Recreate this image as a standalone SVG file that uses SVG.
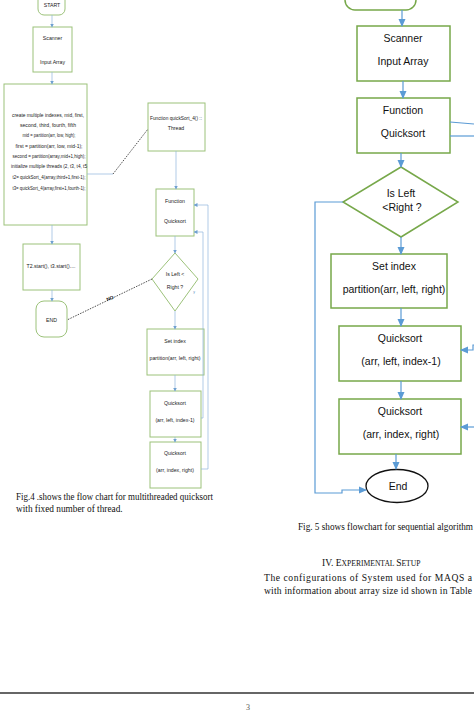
<svg xmlns="http://www.w3.org/2000/svg" width="474" height="712" viewBox="0 0 474 712">
<defs>
<style>
.lb{fill:#fff;stroke:#9cc27a;stroke-width:1}
.rb{fill:#fff;stroke:#77a84a;stroke-width:1.5}
.lt{font-family:"Liberation Sans",Arial,sans-serif;font-size:5.2px;fill:#222;text-anchor:middle}
.rt{font-family:"Liberation Sans",Arial,sans-serif;font-size:10.5px;fill:#111;text-anchor:middle}
.lc{fill:none;stroke:#8fb6dd;stroke-width:0.7}
.rc{fill:none;stroke:#5b9bd5;stroke-width:1.2}
.dash{fill:none;stroke:#222;stroke-width:0.8;stroke-dasharray:1.5,1.2}
.cap{font-family:"Liberation Serif","Times New Roman",serif;font-size:9.3px;fill:#111}
</style>
<marker id="la" markerWidth="4" markerHeight="4" refX="3.5" refY="2" orient="auto" markerUnits="userSpaceOnUse"><path d="M0,0 L4,2 L0,4 z" fill="#6fa0d0"/></marker>
<marker id="ra" markerWidth="8" markerHeight="8" refX="7" refY="4" orient="auto" markerUnits="userSpaceOnUse"><path d="M0,0.5 L8,4 L0,7.5 z" fill="#5b9bd5"/></marker>
</defs>

<!-- Left flowchart nodes -->
<g id="l-start"><rect class="lb" x="38" y="-6" width="27" height="21" rx="6"/><text class="lt" x="52" y="7">START</text></g>
<g id="l-scanner"><rect class="lb" x="33" y="27" width="39" height="45"/><text class="lt" x="52.5" y="40">Scanner</text><text class="lt" x="52.5" y="64">Input Array</text></g>
<g id="l-create"><rect class="lb" x="4" y="84" width="83" height="141"/>
<text class="lt" x="48" y="117" textLength="72" lengthAdjust="spacingAndGlyphs">create multiple indexes, mid, first,</text>
<text class="lt" x="48" y="127" textLength="56" lengthAdjust="spacingAndGlyphs">second, third, fourth, fifth</text>
<text class="lt" x="49" y="137" textLength="53" lengthAdjust="spacingAndGlyphs">mid = partition(arr, low, high);</text>
<text class="lt" x="49" y="148" textLength="67" lengthAdjust="spacingAndGlyphs">first = partition(arr, low, mid-1);</text>
<text class="lt" x="49" y="158" textLength="73" lengthAdjust="spacingAndGlyphs">second = partition(array,mid+1,high);</text>
<text class="lt" x="49" y="168" textLength="76" lengthAdjust="spacingAndGlyphs">initialize multiple threads (2, t3, t4, t5</text>
<text class="lt" x="49" y="179" textLength="73" lengthAdjust="spacingAndGlyphs">t2= quickSort_4(array,third+1,first-1);</text>
<text class="lt" x="49" y="190" textLength="73" lengthAdjust="spacingAndGlyphs">t3= quickSort_4(array,first+1,fourth-1);</text>
</g>
<g id="l-tstart"><rect class="lb" x="23" y="244" width="57" height="46"/><text class="lt" x="51" y="268">T2.start(), t3.start()....</text></g>
<g id="l-end"><rect class="lb" x="36" y="301" width="31" height="36" rx="8"/><text class="lt" x="51.5" y="322">END</text></g>
<g id="l-thread"><rect class="lb" x="148" y="103" width="57" height="48"/><text class="lt" x="176" y="120" textLength="52" lengthAdjust="spacingAndGlyphs">Function quickSort_4() ::</text><text class="lt" x="176" y="130">Thread</text></g>
<g id="l-func"><rect class="lb" x="156" y="189" width="38" height="47"/><text class="lt" x="175" y="203">Function</text><text class="lt" x="175" y="223">Quicksort</text></g>
<g id="l-cond"><polygon class="lb" points="175,253 198,279 175,311 152,279"/><text class="lt" x="175" y="276">Is Left &lt;</text><text class="lt" x="175" y="289">Right ?</text><text class="lt" x="194" y="293" style="font-size:3.5px;fill:#5b8fc0">y</text></g>
<g id="l-setidx"><rect class="lb" x="147" y="329" width="57" height="46"/><text class="lt" x="175" y="343">Set index</text><text class="lt" x="175" y="360" textLength="51" lengthAdjust="spacingAndGlyphs">partition(arr, left, right)</text></g>
<g id="l-qs1"><rect class="lb" x="150" y="391" width="51" height="46"/><text class="lt" x="175" y="405">Quicksort</text><text class="lt" x="175" y="422">(arr, left, index-1)</text></g>
<g id="l-qs2"><rect class="lb" x="150" y="442" width="51" height="46"/><text class="lt" x="175" y="455">Quicksort</text><text class="lt" x="175" y="472">(arr, index, right)</text></g>

<!-- Right flowchart nodes -->
<g id="r-start"><rect class="rb" x="345" y="-22" width="71" height="32" rx="10"/></g>
<g id="r-scanner"><rect class="rb" x="357" y="26" width="93" height="55"/><text class="rt" x="403" y="42">Scanner</text><text class="rt" x="403" y="65">Input Array</text></g>
<g id="r-func"><rect class="rb" x="357" y="98" width="93" height="55"/><text class="rt" x="403" y="114">Function</text><text class="rt" x="403" y="137">Quicksort</text></g>
<g id="r-cond"><polygon class="rb" points="401,167 458,202 401,237 343,202"/><text class="rt" x="401" y="197">Is Left</text><text class="rt" x="402" y="211">&lt;Right ?</text></g>
<g id="r-setidx"><rect class="rb" x="331" y="254" width="116" height="54"/><text class="rt" x="394" y="270">Set index</text><text class="rt" x="394" y="293">partition(arr, left, right)</text></g>
<g id="r-qs1"><rect class="rb" x="339" y="326" width="122" height="55"/><text class="rt" x="400" y="342">Quicksort</text><text class="rt" x="401" y="365">(arr, left, index-1)</text></g>
<g id="r-qs2"><rect class="rb" x="339" y="399" width="122" height="55"/><text class="rt" x="400" y="415">Quicksort</text><text class="rt" x="401" y="438">(arr, index, right)</text></g>
<g id="r-end"><ellipse cx="397" cy="486" rx="31" ry="16.5" fill="#fff" stroke="#111" stroke-width="1.3"/><text class="rt" x="398" y="490">End</text></g>

<!-- Connectors -->
<g id="connectors">
<line class="lc" x1="52" y1="15" x2="52" y2="27" marker-end="url(#la)"/>
<line class="lc" x1="52" y1="72" x2="52" y2="84" marker-end="url(#la)"/>
<line class="lc" x1="52" y1="225" x2="52" y2="244" marker-end="url(#la)"/>
<line class="lc" x1="52" y1="290" x2="52" y2="301" marker-end="url(#la)"/>
<polyline class="lc" points="87,174 113,174"/>
<line class="dash" x1="113" y1="174" x2="148" y2="129"/>
<line class="lc" x1="176" y1="151" x2="176" y2="189" marker-end="url(#la)"/>
<line class="lc" x1="175" y1="236" x2="175" y2="253" marker-end="url(#la)"/>
<line class="lc" x1="175" y1="311" x2="175" y2="329" marker-end="url(#la)"/>
<line class="lc" x1="175" y1="375" x2="175" y2="391" marker-end="url(#la)"/>
<line class="lc" x1="175" y1="437" x2="175" y2="442" marker-end="url(#la)"/>
<polyline class="lc" points="201,418 203,418 203,232 194,232" marker-end="url(#la)"/>
<polyline class="lc" points="201,469 208,469 208,205 194,205" marker-end="url(#la)"/>
<line class="dash" x1="152" y1="279" x2="67" y2="320"/>
<text x="110" y="300" transform="rotate(-22 110 298)" style="font-family:'Liberation Sans',Arial,sans-serif;font-size:5px;font-weight:bold;fill:#222;text-anchor:middle">NO</text>

<line class="rc" x1="402" y1="10" x2="402" y2="26" marker-end="url(#ra)"/>
<line class="rc" x1="403" y1="81" x2="403" y2="98" marker-end="url(#ra)"/>
<line class="rc" x1="401" y1="153" x2="401" y2="167" marker-end="url(#ra)"/>
<line class="rc" x1="401" y1="237" x2="401" y2="254" marker-end="url(#ra)"/>
<line class="rc" x1="401" y1="308" x2="401" y2="326" marker-end="url(#ra)"/>
<line class="rc" x1="401" y1="381" x2="401" y2="399" marker-end="url(#ra)"/>
<line class="rc" x1="396" y1="454" x2="396" y2="469" marker-end="url(#ra)"/>
<polyline class="rc" points="343,202 315,202 315,493 342,493 342,490 366,490" marker-end="url(#ra)"/>
<polyline class="rc" points="450,122 474,124"/>
<polyline class="rc" points="450,136 474,136"/>
<polyline class="rc" points="476,345 473,345 473,350 461,350" marker-end="url(#ra)"/>
<polyline class="rc" points="476,427 461,427" marker-end="url(#ra)"/>
</g>

<!-- Captions -->
<text class="cap" x="16" y="500" textLength="197" lengthAdjust="spacingAndGlyphs">Fig.4 .shows the flow chart for multithreaded quicksort</text>
<text class="cap" x="16" y="512">with fixed number of thread.</text>
<text class="cap" x="298" y="530" textLength="175" lengthAdjust="spacingAndGlyphs">Fig. 5 shows flowchart for sequential algorithm</text>
<text class="cap" x="322" y="566" style="font-size:9.6px">IV. E<tspan style="font-size:7.6px">XPERIMENTAL </tspan>S<tspan style="font-size:7.6px">ETUP</tspan></text>
<text class="cap" x="264" y="581" style="font-size:9.6px" textLength="208" lengthAdjust="spacing">The configurations of System used for MAQS a</text>
<text class="cap" x="264" y="594" style="font-size:9.6px" textLength="208" lengthAdjust="spacing">with information about array size id shown in Table</text>
<line x1="0" y1="693" x2="474" y2="693" stroke="#333" stroke-width="1.5"/>
<text class="cap" x="246" y="710" style="font-size:8px;fill:#555">3</text>
</svg>
